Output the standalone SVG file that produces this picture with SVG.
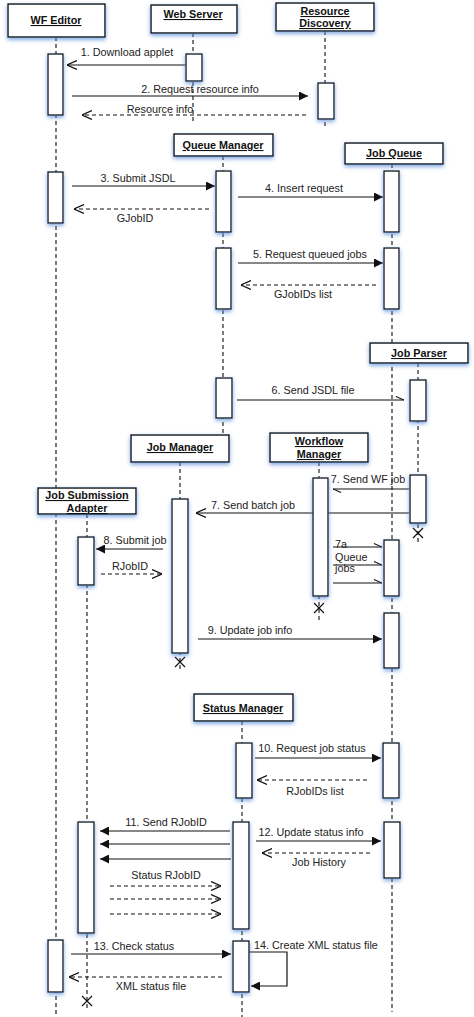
<svg xmlns="http://www.w3.org/2000/svg" width="474" height="1017" viewBox="0 0 474 1017">
<defs>
<filter id="glow" x="-40%" y="-40%" width="180%" height="180%">
<feGaussianBlur in="SourceAlpha" stdDeviation="2.2" result="b"/>
<feOffset in="b" dx="0" dy="1.5" result="o"/>
<feFlood flood-color="#5b8fd8" flood-opacity="0.8"/>
<feComposite in2="o" operator="in" result="s"/>
<feMerge><feMergeNode in="s"/><feMergeNode in="SourceGraphic"/></feMerge>
</filter>
<marker id="fill" viewBox="0 0 10 10" refX="10" refY="5" markerWidth="9" markerHeight="9" markerUnits="userSpaceOnUse" orient="auto"><path d="M0,0 L10,5 L0,10 Z" fill="#111"/></marker>
<marker id="open" viewBox="0 0 10 10" refX="10" refY="5" markerWidth="10" markerHeight="10" markerUnits="userSpaceOnUse" orient="auto"><path d="M0,0.5 L10,5 L0,9.5" fill="none" stroke="#111" stroke-width="1.2"/></marker>
<marker id="half" viewBox="0 0 10 10" refX="10" refY="8" markerWidth="9" markerHeight="9" markerUnits="userSpaceOnUse" orient="auto"><path d="M1,4 L10,8" fill="none" stroke="#111" stroke-width="1.2"/></marker>
</defs>
<style>
.box{fill:#fff;stroke:#111;stroke-width:1.4;filter:url(#glow)}
.act{fill:#fff;stroke:#111;stroke-width:1.3;filter:url(#glow)}
.life{stroke:#222;stroke-width:1.2;stroke-dasharray:4 3;fill:none}
.title{font-family:"Liberation Sans",Arial,sans-serif;font-size:10.8px;font-weight:bold;text-decoration:underline;text-anchor:middle;fill:#111}
.lbl{font-family:"Liberation Sans",Arial,sans-serif;font-size:10.8px;text-anchor:middle;fill:#222}
.st{text-anchor:start}
.sync{stroke:#111;stroke-width:1.2;fill:none;marker-end:url(#fill)}
.ret{stroke:#111;stroke-width:1.2;stroke-dasharray:4 3;fill:none;marker-end:url(#open)}
.asy{stroke:#111;stroke-width:1.2;fill:none;marker-end:url(#half)}
.opn{stroke:#111;stroke-width:1.2;fill:none;marker-end:url(#open)}
.x{stroke:#111;stroke-width:1.2}
</style>
<rect width="474" height="1017" fill="#fff"/>

<g id="lifelines">
<line class="life" x1="56" y1="37" x2="56" y2="1017"/>
<line class="life" x1="193" y1="33" x2="193" y2="121"/>
<line class="life" x1="325" y1="31" x2="325" y2="128"/>
<line class="life" x1="223" y1="156" x2="223" y2="434"/>
<line class="life" x1="392" y1="164" x2="392" y2="1012"/>
<line class="life" x1="418" y1="363" x2="418" y2="545"/>
<line class="life" x1="180" y1="462" x2="180" y2="672"/>
<line class="life" x1="319" y1="462" x2="319" y2="620"/>
<line class="life" x1="87" y1="514" x2="87" y2="1010"/>
<line class="life" x1="242" y1="721" x2="242" y2="1017"/>
</g>

<g id="connectors">
<line class="opn" x1="186" y1="65" x2="67" y2="65"/>
<line class="sync" x1="72" y1="96" x2="308" y2="96"/>
<line class="ret" x1="306" y1="115" x2="82" y2="115"/>
<line class="sync" x1="72" y1="186" x2="215" y2="186"/>
<line class="ret" x1="209" y1="209" x2="74" y2="209"/>
<line class="sync" x1="238" y1="197" x2="383" y2="197"/>
<line class="sync" x1="238" y1="263" x2="383" y2="263"/>
<line class="ret" x1="376" y1="285" x2="241" y2="285"/>
<line class="asy" x1="237" y1="400" x2="404" y2="400"/>
<line class="asy" x1="409" y1="489" x2="333" y2="489"/>
<line class="opn" x1="409" y1="513" x2="196" y2="513"/>
<line class="sync" x1="163" y1="549" x2="96" y2="549"/>
<line class="ret" x1="101" y1="574" x2="162" y2="574"/>
<line class="asy" x1="333" y1="547" x2="382" y2="547"/>
<line class="asy" x1="333" y1="565" x2="382" y2="565"/>
<line class="asy" x1="333" y1="583" x2="382" y2="583"/>
<line class="sync" x1="198" y1="639" x2="382" y2="639"/>
<line class="sync" x1="255" y1="758" x2="381" y2="758"/>
<line class="ret" x1="367" y1="780" x2="257" y2="780"/>
<line class="sync" x1="230" y1="831" x2="100" y2="831"/>
<line class="sync" x1="230" y1="844" x2="100" y2="844"/>
<line class="sync" x1="231" y1="859" x2="100" y2="859"/>
<line class="sync" x1="256" y1="841" x2="381" y2="841"/>
<line class="ret" x1="370" y1="853" x2="262" y2="853"/>
<line class="ret" x1="110" y1="886" x2="221" y2="886"/>
<line class="ret" x1="110" y1="899" x2="221" y2="899"/>
<line class="ret" x1="110" y1="914" x2="221" y2="914"/>
<line class="sync" x1="71" y1="954" x2="231" y2="954"/>
<line class="ret" x1="222" y1="977" x2="69" y2="977"/>
<polyline class="sync" points="249,952 287,952 287,986 251,986"/>
</g>

<g id="destroy-marks">
<path class="x" d="M413,528 L423,538 M423,528 L413,538"/>
<path class="x" d="M314,603 L324,613 M324,603 L314,613"/>
<path class="x" d="M175,657 L185,667 M185,657 L175,667"/>
<path class="x" d="M82,996 L92,1006 M92,996 L82,1006"/>
</g>

<g id="wf-editor">
<rect class="box" x="8" y="4" width="97" height="33"/>
<text class="title" x="56" y="24">WF Editor</text>
<rect class="act" x="48" y="54" width="15" height="61"/>
<rect class="act" x="48" y="172" width="15" height="51"/>
<rect class="act" x="48" y="940" width="15" height="52"/>
</g>
<g id="web-server">
<rect class="box" x="151" y="5" width="86" height="28"/>
<text class="title" x="193" y="18">Web Server</text>
<rect class="act" x="186" y="54" width="16" height="27"/>
</g>
<g id="resource-discovery">
<rect class="box" x="276" y="3" width="98" height="28"/>
<text class="title" x="325" y="15">Resource</text>
<text class="title" x="325" y="27">Discovery</text>
<rect class="act" x="318" y="83" width="16" height="36"/>
</g>
<g id="queue-manager">
<rect class="box" x="174" y="134" width="99" height="22"/>
<text class="title" x="223" y="149">Queue Manager</text>
<rect class="act" x="216" y="171" width="15" height="61"/>
<rect class="act" x="216" y="248" width="15" height="61"/>
<rect class="act" x="216" y="378" width="16" height="40"/>
</g>
<g id="job-queue">
<rect class="box" x="345" y="143" width="98" height="21"/>
<text class="title" x="394" y="157">Job Queue</text>
<rect class="act" x="384" y="171" width="15" height="61"/>
<rect class="act" x="384" y="248" width="15" height="61"/>
<rect class="act" x="384" y="540" width="15" height="56"/>
<rect class="act" x="384" y="613" width="15" height="55"/>
<rect class="act" x="383" y="743" width="16" height="55"/>
<rect class="act" x="384" y="822" width="16" height="56"/>
</g>
<g id="job-parser">
<rect class="box" x="370" y="343" width="98" height="20"/>
<text class="title" x="419" y="357">Job Parser</text>
<rect class="act" x="410" y="380" width="16" height="41"/>
<rect class="act" x="410" y="475" width="16" height="48"/>
</g>
<g id="job-manager">
<rect class="box" x="131" y="435" width="98" height="27"/>
<text class="title" x="180" y="451">Job Manager</text>
<rect class="act" x="172" y="499" width="16" height="154"/>
</g>
<g id="workflow-manager">
<rect class="box" x="270" y="433" width="98" height="29"/>
<text class="title" x="319" y="445">Workflow</text>
<text class="title" x="319" y="458">Manager</text>
<rect class="act" x="313" y="478" width="15" height="118"/>
</g>
<g id="job-submission-adapter">
<rect class="box" x="38" y="488" width="98" height="26"/>
<text class="title" x="87" y="499">Job Submission</text>
<text class="title" x="87" y="512">Adapter</text>
<rect class="act" x="78" y="537" width="16" height="48"/>
<rect class="act" x="78" y="822" width="16" height="111"/>
</g>
<g id="status-manager">
<rect class="box" x="194" y="694" width="99" height="27"/>
<text class="title" x="243" y="712">Status Manager</text>
<rect class="act" x="236" y="743" width="16" height="55"/>
<rect class="act" x="233" y="822" width="16" height="107"/>
<rect class="act" x="233" y="941" width="16" height="51"/>
</g>

<g id="labels">
<text class="lbl" x="127" y="56">1. Download applet</text>
<text class="lbl" x="200" y="93">2. Request resource info</text>
<text class="lbl" x="160" y="113">Resource info</text>
<text class="lbl" x="138" y="182">3. Submit JSDL</text>
<text class="lbl" x="135" y="222">GJobID</text>
<text class="lbl" x="304" y="192">4. Insert request</text>
<text class="lbl" x="310" y="258">5. Request queued jobs</text>
<text class="lbl" x="303" y="298">GJobIDs list</text>
<text class="lbl" x="313" y="394">6. Send JSDL file</text>
<text class="lbl" x="368" y="483">7. Send WF job</text>
<text class="lbl" x="253" y="509">7. Send batch job</text>
<text class="lbl" x="135" y="544">8. Submit job</text>
<text class="lbl" x="130" y="570">RJobID</text>
<text class="lbl st" x="335" y="548">7a</text>
<text class="lbl st" x="335" y="561">Queue</text>
<text class="lbl st" x="335" y="572">jobs</text>
<text class="lbl" x="250" y="634">9. Update job info</text>
<text class="lbl" x="312" y="752">10. Request job status</text>
<text class="lbl" x="315" y="795">RJobIDs list</text>
<text class="lbl" x="166" y="826">11. Send RJobID</text>
<text class="lbl" x="311" y="836">12. Update status info</text>
<text class="lbl" x="319" y="866">Job History</text>
<text class="lbl" x="166" y="879">Status RJobID</text>
<text class="lbl" x="134" y="950">13. Check status</text>
<text class="lbl st" x="254" y="949">14. Create XML status file</text>
<text class="lbl" x="151" y="990">XML status file</text>
</g>
</svg>
